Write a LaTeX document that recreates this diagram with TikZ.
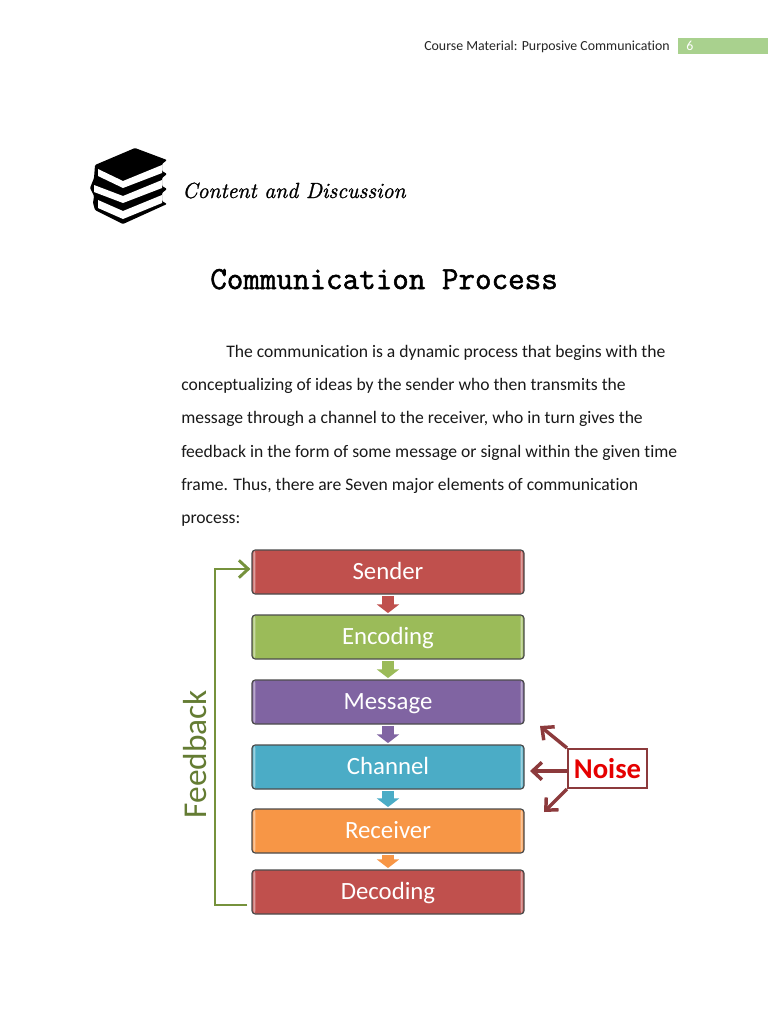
\documentclass[tikz,border=0pt]{standalone}
\usepackage{fontspec}
\setmainfont[Ligatures=CommonOff]{Carlito}
\newfontfamily\monob[FakeBold=1.6]{Latin Modern Mono}
\newfontfamily\scriptf[FakeBold=1.2]{Latin Modern Roman}
\usetikzlibrary{arrows.meta,calc}
\definecolor{cRed}{HTML}{C0504D}
\definecolor{cGreen}{HTML}{9BBB59}
\definecolor{cPurple}{HTML}{8064A2}
\definecolor{cBlue}{HTML}{4BACC6}
\definecolor{cOrange}{HTML}{F79646}
\definecolor{cFeed}{HTML}{76923C}
\definecolor{cNoise}{HTML}{8C3A3C}
\definecolor{cTab}{HTML}{A9D18E}
\tikzset{
  flowbox/.style={draw=black!70,line width=0.9pt,fill=#1,rounded corners=2.5pt,
    minimum width=204pt,minimum height=33pt,inner sep=0pt,text=white,text height=13pt,text depth=2.5pt,font=\fontsize{18.6}{20}\selectfont,
    path picture={
      \fill[white,opacity=.45] ([xshift=1pt]path picture bounding box.south west) rectangle ([xshift=2.6pt]path picture bounding box.north west);
      \fill[white,opacity=.45] ([xshift=-1pt]path picture bounding box.south east) rectangle ([xshift=-2.6pt]path picture bounding box.north east);
    }},
  flowarrow/.style={draw=#1,line width=9pt,-{Triangle[length=6.5pt,width=16.5pt]},shorten <=1pt,shorten >=1pt},
  bodyline/.style={anchor=base west,inner sep=0pt,font=\fontsize{13.2}{15}\selectfont,text=black!90},
  feedline/.style={draw=cFeed,line width=2.2pt},
  noisearrow/.style={draw=cNoise,line width=2.6pt,-{Straight Barb[length=7pt,width=13pt,line width=2.6pt]}},
}
\begin{document}
\begin{tikzpicture}[x=0.75pt,y=-0.75pt]
\useasboundingbox (0,0) rectangle (768,1024);
\fill[white] (0,0) rectangle (768,1024);
% header
\node[anchor=base west,inner sep=0pt,font=\fontsize{10.4}{12}\selectfont,text=black!85] (hdr) at (424,51) {Course Material: Purposive Communication};
\node[anchor=north west,fill=cTab,minimum width=67.5pt,minimum height=12pt,inner sep=0pt] (tab) at (678,38) {};
\node[anchor=base,inner sep=0pt,text=white,font=\fontsize{10.4}{12}\selectfont] (pg) at (690,51) {6};
% book icon
\fill[black,rounded corners=0.8pt] (135,148) -- (167,160) -- (162,164) -- (162,171) -- (167,174) -- (162,178) -- (162,186) -- (167,189) -- (162,193) -- (162,201) -- (167,204) -- (123,224) -- (95,210) -- (93,203) -- (94,196) -- (90,188) -- (94,178) -- (95,165) -- cycle;
\fill[white] (98,169) -- (123,181) -- (162,165) -- (162,173) -- (123,188) -- (98,176) -- cycle;
\fill[white] (94,185) -- (123,196) -- (162,180) -- (162,188) -- (123,203) -- (94,192) -- cycle;
\fill[white] (98,200) -- (123,211) -- (162,195) -- (162,203) -- (123,219) -- (98,208) -- cycle;
% titles
\node[anchor=base west,inner sep=0pt,font=\scriptf\itshape\fontsize{16.4}{18}\selectfont] (cd) at (182,198) {Content and Discussion};
\node[anchor=base west,inner sep=0pt,font=\monob\fontsize{24.1}{26}\selectfont] (title) at (210,289) {Communication Process};
% body
\node[bodyline] (l1) at (226,357) {The communication is a dynamic process that begins with the};
\node[bodyline] (l2) at (181,390) {conceptualizing of ideas by the sender who then transmits the};
\node[bodyline] (l3) at (181,423) {message through a channel to the receiver, who in turn gives the};
\node[bodyline] (l4) at (181,457) {feedback in the form of some message or signal within the given time};
\node[bodyline] (l5) at (181,490) {frame. Thus, there are Seven major elements of communication};
\node[bodyline] (l6) at (181,523) {process:};
% boxes
\node[flowbox=cRed] (sender) at (388,572) {Sender};
\node[flowbox=cGreen] (encoding) at (388,637) {Encoding};
\node[flowbox=cPurple] (message) at (388,702) {Message};
\node[flowbox=cBlue] (channel) at (388,767) {Channel};
\node[flowbox=cOrange] (receiver) at (388,831) {Receiver};
\node[flowbox=cRed] (decoding) at (388,892) {Decoding};
\draw[flowarrow=cRed] (sender) -- (encoding);
\draw[flowarrow=cGreen] (encoding) -- (message);
\draw[flowarrow=cPurple] (message) -- (channel);
\draw[flowarrow=cBlue] (channel) -- (receiver);
\draw[flowarrow=cOrange] (receiver) -- (decoding);
% feedback
\coordinate (fbA) at ($(decoding.west)+(-4,13)$);
\coordinate (fbB) at ($(sender.west)+(-1,-3)$);
\draw[feedline,-{Straight Barb[length=7pt,width=13pt,line width=2.2pt]}] (fbA) -- (215,905) -- (215,569) -- (fbB);
\node[rotate=90,inner sep=0pt,text=cFeed!85!black,font=\fontsize{25}{28}\selectfont] (fb) at (195,754) {Feedback};
% noise
\node[draw=cNoise,line width=1.8pt,fill=white,minimum width=59pt,minimum height=29pt,inner sep=0pt,text=red!90!black,font=\bfseries\fontsize{21.5}{24}\selectfont] (noise) at (607.5,768.5) {Noise};
\coordinate (nA) at (540,726);
\coordinate (nB) at (530,771);
\coordinate (nC) at (544,812);
\draw[noisearrow] (noise.north west) -- (nA);
\draw[noisearrow] (noise.west |- nB) -- (nB);
\draw[noisearrow] (noise.south west) -- (nC);
\end{tikzpicture}
\end{document}
